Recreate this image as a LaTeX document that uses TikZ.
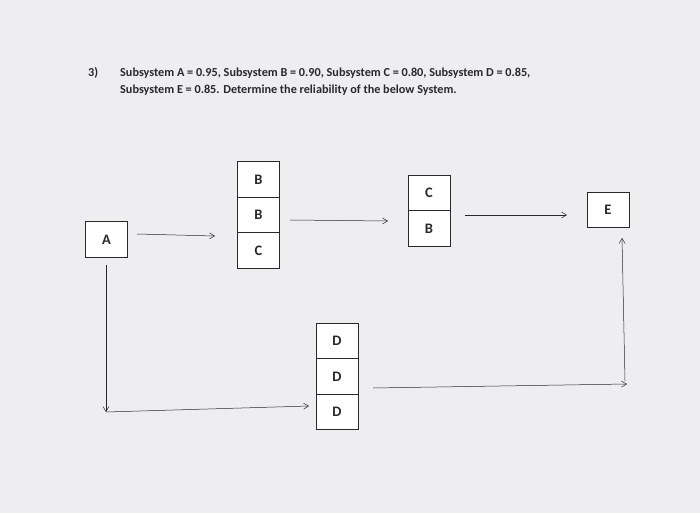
\documentclass[tikz,border=0pt]{standalone}
\usepackage{fontspec}
\setmainfont{Carlito}
\usetikzlibrary{arrows.meta}
\definecolor{paper}{RGB}{238,238,240}
\definecolor{ink}{RGB}{40,40,45}
\begin{document}
\begin{tikzpicture}[x=1pt,y=-1pt,
  blk/.style={draw=ink,fill=white,line width=0.8pt,minimum width=42pt,minimum height=35.5pt,inner sep=0pt,font=\fontsize{14.5}{16}\selectfont\bfseries,text=ink},
  txt/.style={anchor=west,font=\fontsize{12.2}{14}\selectfont\bfseries,text=ink,inner sep=0pt},
  arr/.style={draw=ink,line width=0.5pt,-{Straight Barb[length=5pt,width=6pt]}}]
\fill[paper] (0,0) rectangle (700,513);
\useasboundingbox (0,0) rectangle (700,513);
\node[txt] (q0) at (88,73) {3)};
\node[txt] (q1) at (120,73) {Subsystem A = 0.95, Subsystem B = 0.90, Subsystem C = 0.80, Subsystem D = 0.85,};
\node[txt] (q2) at (120,90) {Subsystem E = 0.85. Determine the reliability of the below System.};
\node[blk] (A) at (106.5,239.5) {A};
\node[blk] (B1) at (258.5,179.5) {B};
\node[blk] (B2) at (258.5,215) {B};
\node[blk] (C1) at (258.5,250.5) {C};
\node[blk] (C2) at (429,193) {C};
\node[blk] (B3) at (429,228.5) {B};
\node[blk] (E) at (608,210) {E};
\node[blk] (D1) at (337,341) {D};
\node[blk] (D2) at (337,376.5) {D};
\node[blk] (D3) at (337,412) {D};
\coordinate (a1) at (137,234); \coordinate (a2) at (215,236);
\coordinate (b1) at (290,220); \coordinate (b2) at (388,221);
\coordinate (c1) at (465,215); \coordinate (c2) at (567,215);
\coordinate (d0) at (106,265); \coordinate (d1) at (106,412);
\coordinate (d2) at (309,406);
\coordinate (e1) at (373,388); \coordinate (e2) at (627,384);
\coordinate (f1) at (625,381); \coordinate (f2) at (622,238);
\draw[arr] (a1) -- (a2);
\draw[arr] (b1) -- (b2);
\draw[arr] (c1) -- (c2);
\draw[arr] (d0) -- (d1);
\draw[arr] (d1) -- (d2);
\draw[arr] (e1) -- (e2);
\draw[arr] (f1) -- (f2);
\end{tikzpicture}
\end{document}
